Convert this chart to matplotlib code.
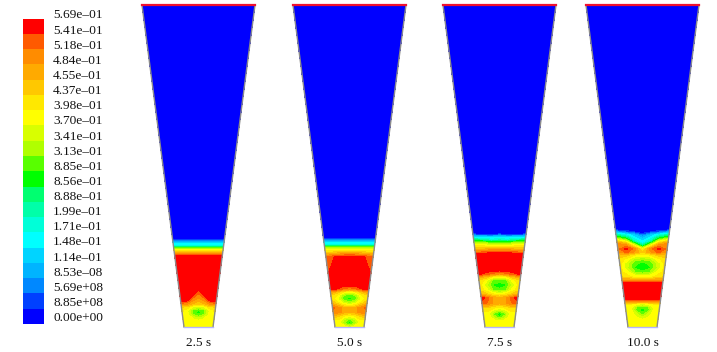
import numpy as np
import matplotlib
matplotlib.use('Agg')
from matplotlib import pyplot as plt
from matplotlib.colors import ListedColormap, BoundaryNorm

plt.rcParams['font.family'] = ['Liberation Serif', 'DejaVu Serif']

# legend
legend_labels = ['5.69e–01', '5.41e–01', '5.18e–01', '4.84e–01', '4.55e–01', '4.37e–01', '3.98e–01',
                 '3.70e–01', '3.41e–01', '3.13e–01', '8.85e–01', '8.56e–01', '8.88e–01', '1.99e–01',
                 '1.71e–01', '1.48e–01', '1.14e–01', '8.53e–08', '5.69e+08', '8.85e+08', '0.00e+00']
legend_colors = ['#0000ff', '#0040ff', '#0088ff', '#00b4ff', '#00d4ff', '#00ffff', '#00ffd8', '#00ffa8',
                 '#00ff70', '#00ff00', '#58ff00', '#b0ff00', '#d8ff00', '#ffff00', '#ffe800', '#ffc800',
                 '#ffaa00', '#ff8c00', '#ff5a00', '#ff0000']
levels = np.linspace(0, 0.569, 21)

# time labels and trapezoid centres
times = ['2.5 s', '5.0 s', '7.5 s', '10.0 s']
centres = [198.5, 349.5, 499.5, 642.5]

# field columns, 0 = centre line, 1 = wall
col_u = [0, 0.33, 0.66, 1]

# each row: height in the bed, then values at the col_u columns
rows_1 = [[5, 0, 0, 0, 0], [239, 0, 0, 0, 0], [241, 0.06, 0.06, 0.06, 0.06], [243, 0.13, 0.13, 0.13, 0.13],
          [246, 0.19, 0.19, 0.19, 0.19], [248, 0.29, 0.29, 0.29, 0.29], [250, 0.38, 0.38, 0.38, 0.38],
          [253, 0.47, 0.47, 0.47, 0.47], [256, 0.56, 0.56, 0.56, 0.56], [288, 0.56, 0.56, 0.56, 0.56],
          [294, 0.51, 0.56, 0.56, 0.56], [300, 0.47, 0.49, 0.56, 0.56], [304, 0.43, 0.45, 0.49, 0.50],
          [307, 0.35, 0.37, 0.42, 0.43], [310, 0.29, 0.31, 0.38, 0.41], [312, 0.27, 0.29, 0.37, 0.40],
          [315, 0.29, 0.32, 0.38, 0.40], [319, 0.36, 0.37, 0.39, 0.39], [323, 0.39, 0.39, 0.39, 0.39],
          [327, 0.38, 0.38, 0.38, 0.38]]
rows_2 = [[5, 0, 0, 0, 0], [238, 0, 0, 0, 0], [240, 0.06, 0.06, 0.06, 0.06], [242, 0.13, 0.13, 0.13, 0.13],
          [245, 0.19, 0.19, 0.19, 0.19], [247, 0.29, 0.29, 0.29, 0.29], [250, 0.39, 0.39, 0.38, 0.38],
          [253, 0.47, 0.46, 0.45, 0.44], [257, 0.56, 0.56, 0.54, 0.51], [285, 0.56, 0.56, 0.56, 0.56],
          [289, 0.49, 0.51, 0.54, 0.56], [292, 0.37, 0.40, 0.45, 0.48], [295, 0.30, 0.32, 0.40, 0.43],
          [299, 0.27, 0.29, 0.37, 0.42], [303, 0.33, 0.36, 0.41, 0.45], [308, 0.46, 0.47, 0.50, 0.52],
          [312, 0.46, 0.47, 0.50, 0.50], [316, 0.38, 0.40, 0.43, 0.45], [320, 0.30, 0.33, 0.39, 0.40],
          [323, 0.27, 0.31, 0.39, 0.39], [327, 0.36, 0.38, 0.38, 0.38]]
rows_3 = [[5, 0, 0, 0, 0], [233, 0, 0, 0, 0], [235, 0.06, 0.04, 0.05, 0.06], [237, 0.13, 0.12, 0.13, 0.14],
          [240, 0.20, 0.19, 0.22, 0.24], [243, 0.30, 0.30, 0.33, 0.33], [246, 0.39, 0.39, 0.40, 0.40],
          [250, 0.49, 0.49, 0.47, 0.47], [254, 0.56, 0.56, 0.56, 0.54], [270, 0.56, 0.56, 0.56, 0.56],
          [274, 0.48, 0.50, 0.53, 0.55], [277, 0.37, 0.39, 0.45, 0.47], [280, 0.30, 0.31, 0.39, 0.43],
          [285, 0.27, 0.28, 0.35, 0.41], [290, 0.29, 0.31, 0.38, 0.42], [294, 0.38, 0.40, 0.43, 0.46],
          [298, 0.47, 0.48, 0.52, 0.56], [303, 0.47, 0.48, 0.51, 0.52], [308, 0.38, 0.40, 0.42, 0.42],
          [312, 0.30, 0.33, 0.39, 0.40], [314, 0.26, 0.30, 0.38, 0.40], [317, 0.29, 0.33, 0.39, 0.39],
          [321, 0.37, 0.38, 0.39, 0.39], [327, 0.38, 0.38, 0.38, 0.38]]
rows_4 = [[5, 0, 0, 0, 0], [229, 0, 0, 0, 0], [232, 0.0, 0.03, 0.06, 0.10], [235, 0.06, 0.12, 0.18, 0.22],
          [238, 0.11, 0.16, 0.26, 0.31], [241, 0.14, 0.20, 0.36, 0.42], [243, 0.15, 0.27, 0.44, 0.48],
          [246, 0.24, 0.40, 0.51, 0.50], [249, 0.38, 0.50, 0.55, 0.50], [252, 0.43, 0.48, 0.52, 0.48],
          [255, 0.39, 0.40, 0.44, 0.44], [259, 0.32, 0.33, 0.39, 0.42], [263, 0.28, 0.29, 0.35, 0.41],
          [268, 0.27, 0.28, 0.34, 0.41], [272, 0.29, 0.31, 0.37, 0.41], [277, 0.39, 0.39, 0.41, 0.43],
          [280, 0.47, 0.47, 0.48, 0.48], [283, 0.56, 0.56, 0.56, 0.55], [299, 0.56, 0.56, 0.56, 0.56],
          [302, 0.46, 0.47, 0.48, 0.48], [304, 0.36, 0.38, 0.40, 0.40], [307, 0.29, 0.31, 0.38, 0.39],
          [310, 0.27, 0.29, 0.37, 0.39], [314, 0.30, 0.34, 0.39, 0.39], [320, 0.38, 0.39, 0.39, 0.39],
          [327, 0.38, 0.38, 0.38, 0.38]]
panels = [rows_1, rows_2, rows_3, rows_4]

top_y, bot_y = 5, 327
top_half, bot_half = 56.5, 14.5

fig = plt.figure(figsize=(7.17, 3.52), dpi=100)
ax = fig.add_axes([0, 0, 1, 1])
ax.set_xlim(0, 717)
ax.set_ylim(352, 0)
ax.axis('off')

cmap = ListedColormap(legend_colors)
norm = BoundaryNorm(levels, cmap.N)

# colour legend
bar_edges = np.linspace(324, 18.5, 21)
ax.pcolormesh([23, 44], bar_edges, np.array(levels[:-1]).reshape(-1, 1) + 0.001, cmap=cmap, norm=norm)
for i, lab in enumerate(legend_labels):
    ax.text(53, 15.5 + i * 15.13, lab, fontsize=9.6, va='center', ha='left', color='#111111')

# the four beds
for rows, cx, t in zip(panels, centres, times):
    rows = np.array(rows, dtype=float)
    y = rows[:, 0]
    half = top_half + (bot_half - top_half) * (y - top_y) / (bot_y - top_y)
    u = np.array([-x for x in col_u[:0:-1]] + col_u)
    vals = np.hstack([rows[:, :0:-1], rows[:, 2:]])
    X = cx + np.outer(half, u)
    Y = np.tile(y[:, None], (1, len(u)))
    ax.contourf(X, Y, vals, levels=levels, cmap=cmap, norm=norm, extend='both')
    ax.plot([cx - top_half, cx - bot_half], [top_y, bot_y], color='#8c8c8c', lw=1.0)
    ax.plot([cx + top_half, cx + bot_half], [top_y, bot_y], color='#8c8c8c', lw=1.0)
    ax.plot([cx - bot_half, cx + bot_half], [bot_y, bot_y], color='#b4b4ff', lw=1)
    ax.plot([cx - top_half, cx + top_half], [top_y - 0.5, top_y - 0.5], color='#f01030', lw=1.6)
    ax.text(cx, 343, t, fontsize=9.6, ha='center', va='center', color='#111111')

fig.savefig('out.png', dpi=100)
